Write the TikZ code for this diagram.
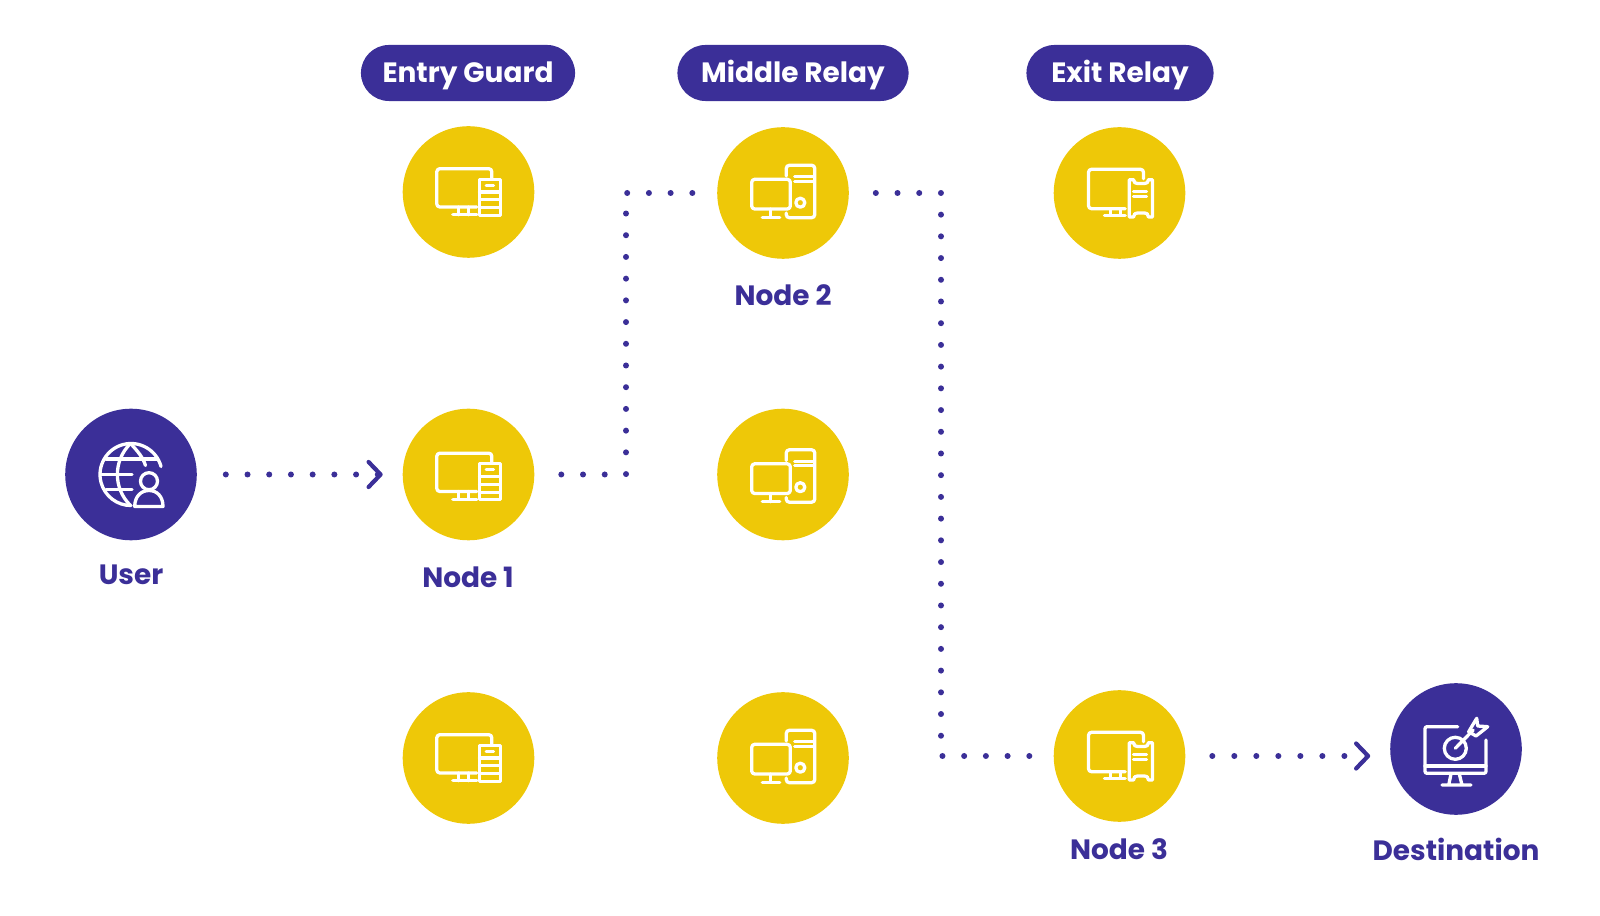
\documentclass[tikz,border=0pt]{standalone}
\usepackage{fontspec}
\setmainfont{Poppins}
\usetikzlibrary{arrows.meta}

\definecolor{relayyellow}{HTML}{EEC808}
\definecolor{torpurple}{HTML}{3B2F98}

\tikzset{
    relay/.style={circle, fill=relayyellow, minimum size=1.315cm, inner sep=0, outer sep=0},
    endpoint/.style={circle, fill=torpurple, minimum size=1.315cm, inner sep=0, outer sep=0},
    pill/.style={fill=torpurple, text=white, rounded corners=0.28cm, minimum height=0.56cm, inner sep=0, text height=0.195cm, text depth=0pt, font=\fontsize{7.95}{10}\selectfont\bfseries},
    caption/.style={text=torpurple, inner sep=0, font=\fontsize{7.95}{10}\selectfont\bfseries},
    dotline/.style={torpurple, line width=0.06cm, line cap=round, dash pattern=on 0pt off 0.217cm},
    hop/.style={dotline, -{Straight Barb[length=0.12cm, width=0.25cm, round, line width=0.042cm]}, shorten >=0.2cm},
    icon/.style={white, line width=0.033cm, line cap=round, line join=round},
    % --- アイコン ---
    guardicon/.pic={
        \draw[icon, rounded corners=0.03cm] (23.3,-13.3) -- (23.3,-23.3) -- (-31.7,-23.3) -- (-31.7,15) -- (8.3,15);
        \draw[icon] (-10,15) -- (-10,22.7) (0,15) -- (0,22.7) (-15.7,22.7) -- (8.3,22.7);
        \draw[icon] (11,-12.7) rectangle (31.7,23.3);
        \draw[icon] (11,0) -- (31.7,0) (11,7.7) -- (31.7,7.7) (11,15.7) -- (31.7,15.7) (17.7,-6.7) -- (25,-6.7);
    },
    middleicon/.pic={
        \draw[icon, rounded corners=0.03cm] (-31.3,-13.7) rectangle (7.3,16);
        \draw[icon] (-12.3,16) -- (-12.3,24.3) (-20.7,24.3) -- (-3.3,24.3);
        \draw[icon, rounded corners=0.03cm] (3.3,-17) -- (3.3,-27.7) -- (31.7,-27.7) -- (31.7,24.7) -- (3.3,24.7) -- (3.3,20);
        \draw[icon] (11.7,-16.3) -- (31,-16.3) (11.7,-11.7) -- (31,-11.7);
        \draw[icon] (17.3,9.7) circle (0.045cm);
    },
    exiticon/.pic={
        \draw[icon, rounded corners=0.03cm] (24,-14.3) -- (24,-23.7) -- (-31,-23.7) -- (-31,15.7) -- (5.7,15.7);
        \draw[icon] (-9.3,15.7) -- (-9.3,22.3) (0.7,15.7) -- (0.7,22.3) (-15,22.3) -- (5.7,22.3);
        \draw[icon] (9.7,-13.3) -- (14,-13.3) .. controls (14.5,-10.5) and (15.5,-9.5) .. (18,-9.5) -- (25,-9.5) .. controls (27.5,-9.5) and (28.5,-10.5) .. (29,-13.3) -- (33,-13.3)
            -- (33,24) -- (29,24) .. controls (28.5,21) and (27.5,20) .. (25,20) -- (18,20) .. controls (15.5,20) and (14.5,21) .. (14,24) -- (9.7,24) -- cycle;
        \draw[icon] (14,-1.7) -- (27,-1.7) (14,3.3) -- (27,3.3);
    },
    usericon/.pic={
        \draw[icon] (30,-8) arc[start angle=15, end angle=270, radius=0.31cm];
        \draw[icon] (-0.5,-31) .. controls (-18,-14) and (-18,14) .. (-0.5,31);
        \draw[icon] (-0.5,-31) .. controls (7,-23) and (12,-17) .. (14.5,-9);
        \draw[icon] (-25,-15.5) -- (26,-15.5) (-30,0) -- (1,0) (-25,15) -- (1,15);
        \draw[icon] (18,6.7) circle (0.085cm);
        \draw[icon] (3.7,32) .. controls (3.7,22) and (10,16) .. (18,16) .. controls (26,16) and (32,22) .. (32,32) -- cycle;
    },
    desticon/.pic={
        \draw[icon, rounded corners=0.02cm] (1.7,-22.3) -- (-31,-22.3) -- (-31,24.3) -- (30,24.3) -- (30,-9);
        \draw[icon] (-31,17) -- (30,17);
        \draw[icon] (-5,25) -- (-7.3,36) (3.3,25) -- (6,36) (-14,36) -- (15,36);
        \draw[icon] (-0.7,-0.7) circle (0.11cm);
        \draw[icon] (-0.7,-0.7) -- (17.3,-19);
        \draw[icon] (12.7,-17.3) -- (20.7,-30.7) -- (21.7,-23) -- (31.7,-22.3) -- (20,-13) -- cycle;
    },
}

\begin{document}
\begin{tikzpicture}[x=0.01cm, y=-0.01cm]
    \useasboundingbox (0,0) rectangle (1600,916);

    % --- ヘッダ ---
    \node[pill, minimum width=2.14cm] (entryhead) at (468,73) {Entry Guard};
    \node[pill, minimum width=2.31cm] (middlehead) at (793,73) {Middle Relay};
    \node[pill, minimum width=1.87cm] (exithead) at (1120,73) {Exit Relay};

    % --- ノード ---
    \node[endpoint] (user) at (131,474.5) {};
    \node[endpoint] (dest) at (1456,749) {};
    \node[relay] (e1) at (468.5,192) {};
    \node[relay] (e2) at (468.5,474.5) {};
    \node[relay] (e3) at (468.5,758) {};
    \node[relay] (m1) at (783,193) {};
    \node[relay] (m2) at (783,474.5) {};
    \node[relay] (m3) at (783,758) {};
    \node[relay] (x1) at (1119.5,193) {};
    \node[relay] (x3) at (1119.5,756) {};

    % --- アイコン ---
    \foreach \n in {e1,e3}
        \pic at (\n) {guardicon};
    \foreach \n in {m1,m3}
        \pic at (\n) {middleicon};
    \foreach \n in {x1,x3}
        \pic at (\n) {exiticon};
    \pic at ([yshift=-0.02cm]e2) {guardicon};
    \pic at ([yshift=-0.03cm]m2) {middleicon};
    \pic at (user) {usericon};
    \pic at (dest) {desticon};

    % --- ラベル ---
    \node[caption] (userlabel) at (131,575) {User};
    \node[caption] (label1) at (468,577) {Node 1};
    \node[caption] (label2) at (783,295) {Node 2};
    \node[caption] (label3) at (1119,849) {Node 3};
    \node[caption] (destlabel) at (1456,849) {Destination};

    % --- 経路 ---
    \coordinate (bend1) at (626,474.5);
    \coordinate (bend2) at (941,193);
    \draw[hop, shorten <=0.29cm] (user) -- (e2);
    \draw[dotline, shorten <=0.27cm, shorten >=0.23cm] (e2) -- (bend1) -- (bend1 |- m1) -- (m1);
    \draw[dotline, shorten <=0.27cm, shorten >=0.23cm] (m1) -- (bend2) -- (bend2 |- x3) -- (x3);
    \draw[hop, shorten <=0.27cm, dash pattern=on 0pt off 0.22cm] (x3) -- (x3 -| dest.west);

\end{tikzpicture}
\end{document}
